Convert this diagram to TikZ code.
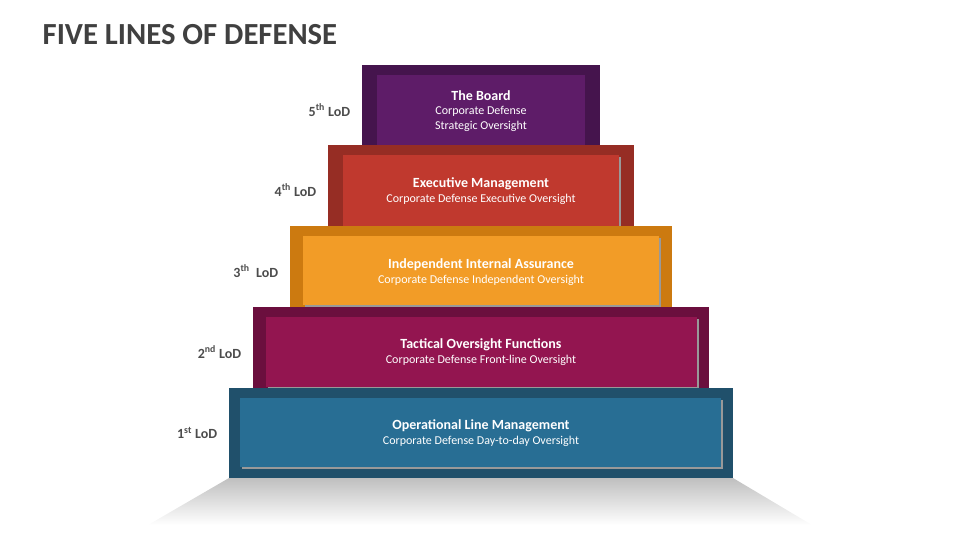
\documentclass[tikz,border=0pt]{standalone}
\usepackage{fontspec}
\setmainfont{Carlito}
\begin{document}
\begin{tikzpicture}[x=0.75pt,y=-0.75pt,
 outer/.style={fill=#1},
 inner/.style={fill=#1,drop shadow={opacity=0.4,shadow xshift=1pt,shadow yshift=-1pt}},
 lbl/.style={text=white,align=center,font=\fontsize{9}{11}\selectfont},
 lod/.style={text=black!70,font=\bfseries\fontsize{10.5}{12}\selectfont,anchor=east}]
\useasboundingbox (0,0) rectangle (960,540);
\definecolor{b1}{HTML}{286E94}\definecolor{b0}{HTML}{20506B}
\definecolor{m1}{HTML}{931550}\definecolor{m0}{HTML}{6B0F3E}
\definecolor{o1}{HTML}{F29C27}\definecolor{o0}{HTML}{CC7A10}
\definecolor{r1}{HTML}{C0392E}\definecolor{r0}{HTML}{962D24}
\definecolor{p1}{HTML}{5E1C68}\definecolor{p0}{HTML}{45144D}
\node[anchor=west,font=\bfseries\fontsize{23}{26}\selectfont,text=black!75] (title) at (38,35) {FIVE LINES OF DEFENSE};
\shade[top color=black!25,bottom color=white] (229,478) -- (733,478) -- (812,525) -- (148,525) -- cycle;
\fill[p0] (362,65) rectangle (600,145);
\fill[p1] (377,75) rectangle (585,145);
\fill[r0] (328,145) rectangle (634,226);
\fill[black!40] (345,157) rectangle (621,228);
\fill[r1] (343,155) rectangle (619,226);
\fill[o0] (290,226) rectangle (672,307);
\fill[black!40] (305,238) rectangle (661,307);
\fill[o1] (303,236) rectangle (659,305);
\fill[m0] (253,307) rectangle (709,388);
\fill[black!40] (268,319) rectangle (699,389);
\fill[m1] (266,317) rectangle (697,387);
\fill[b0] (229,388) rectangle (733,478);
\fill[black!40] (242,400) rectangle (723,469);
\fill[b1] (240,398) rectangle (721,467);
\node[lbl] (t5) at (481,111) {{\bfseries\fontsize{10.5}{13}\selectfont The Board}\\Corporate Defense\\Strategic Oversight};
\node[lbl] (t4) at (481,191) {{\bfseries\fontsize{10.5}{13}\selectfont Executive Management}\\Corporate Defense Executive Oversight};
\node[lbl] (t3) at (481,272) {{\bfseries\fontsize{10.5}{13}\selectfont Independent Internal Assurance}\\Corporate Defense Independent Oversight};
\node[lbl] (t2) at (481,352) {{\bfseries\fontsize{10.5}{13}\selectfont Tactical Oversight Functions}\\Corporate Defense Front-line Oversight};
\node[lbl] (t1) at (481,433) {{\bfseries\fontsize{10.5}{13}\selectfont Operational Line Management}\\Corporate Defense Day-to-day Oversight};
\node[lod] (l5) at (355,110) {5\textsuperscript{th} LoD};
\node[lod] (l4) at (321,190) {4\textsuperscript{th} LoD};
\node[lod] (l3) at (283,271) {3\textsuperscript{th}\ \ LoD};
\node[lod] (l2) at (246,352) {2\textsuperscript{nd} LoD};
\node[lod] (l1) at (222,433) {1\textsuperscript{st} LoD};
\end{tikzpicture}
\end{document}
